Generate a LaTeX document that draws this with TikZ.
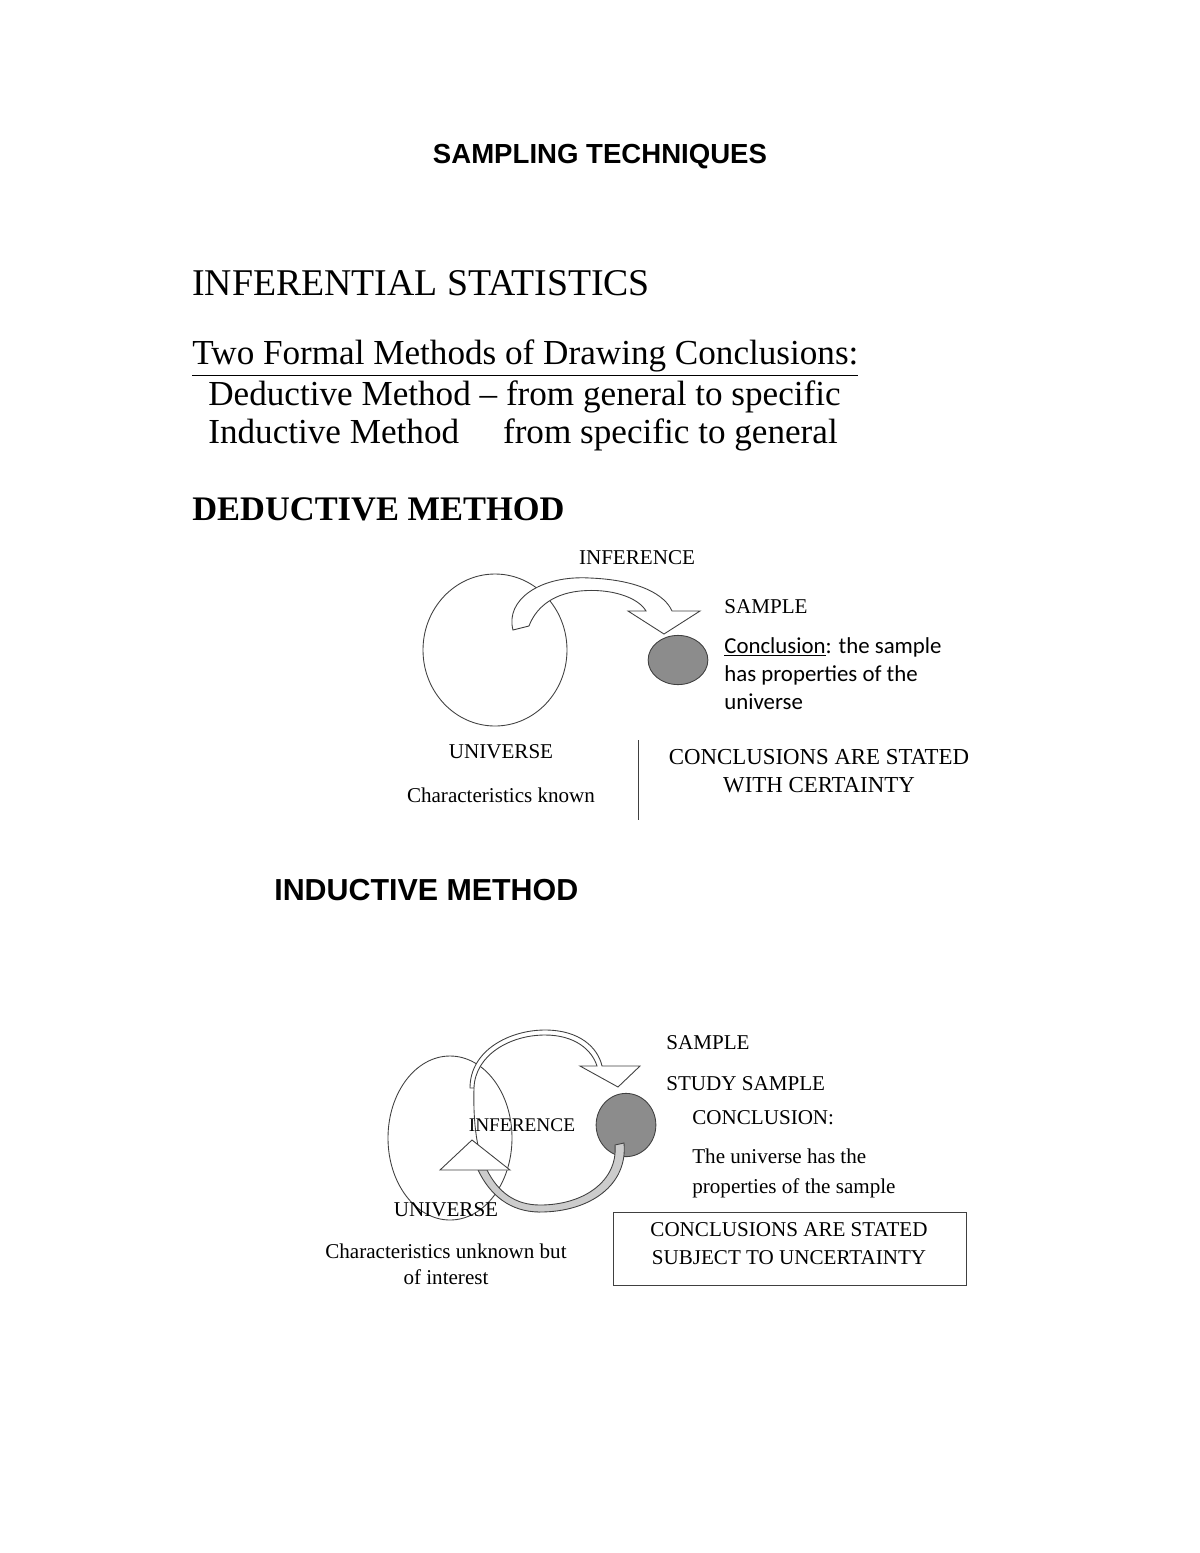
\documentclass[tikz,border=0pt]{standalone}
\usepackage{fontspec}
\usetikzlibrary{shapes.geometric}
\setmainfont{Liberation Serif}
\newfontfamily\hel{Liberation Sans}
\newfontfamily\carl{Carlito}
\begin{document}
\begin{tikzpicture}[x=0.02cm,y=-0.02cm,
  lbl/.style={inner sep=0pt,font=\fontsize{12}{14}\selectfont},
  left lbl/.style={lbl,anchor=west},
  thin line/.style={draw=black!75,line width=0.5pt}]
\useasboundingbox (0,0) rectangle (1200,1553);
\node[inner sep=0pt,font=\hel\bfseries\fontsize{15.7}{18}\selectfont] (title) at (600,157) {SAMPLING TECHNIQUES};
\node[anchor=west,inner sep=0pt,font=\fontsize{21.5}{24}\selectfont] (infs) at (192,283) {INFERENTIAL STATISTICS};
\node[anchor=west,inner sep=0pt,font=\fontsize{20}{22}\selectfont] (two) at (192,358) {\underline{Two Formal Methods of Drawing Conclusions:}};
\node[anchor=west,inner sep=0pt,font=\fontsize{20}{22}\selectfont] (ded) at (208,397) {Deductive Method -- from general to specific};
\node[anchor=west,inner sep=0pt,font=\fontsize{20}{22}\selectfont] (ind) at (208,435) {Inductive Method\quad\ from specific to general};
\node[anchor=west,inner sep=0pt,font=\bfseries\fontsize{19.6}{22}\selectfont] (dm) at (192,509) {DEDUCTIVE METHOD};
% deductive diagram
\draw[thin line] (495,650) ellipse [x radius=72,y radius=76];
\draw[thin line,fill=white] (513,630) .. controls (505,600) and (540,575) .. (590,578)
  .. controls (640,580) and (665,595) .. (672,611) -- (700,611) -- (664,634) -- (628,611) -- (646,611)
  .. controls (638,597) and (610,588) .. (580,591) .. controls (550,594) and (535,610) .. (529,626) -- cycle;
\node[thin line,fill=black!45,ellipse,minimum width=34pt,minimum height=28pt,inner sep=0pt] (dsamp) at (678,660) {};
\node[lbl] (dinf) at (637,558) {INFERENCE};
\node[left lbl] (dsl) at (724,607) {SAMPLE};
\node[left lbl,font=\carl\fontsize{13}{14}\selectfont,align=left,anchor=north west] (dcon) at (724,637) {\underline{Conclusion}: the sample\\[2pt] has properties of the\\[2pt] universe};
\node[lbl] (duni) at (501,752) {UNIVERSE};
\node[lbl] (dchar) at (501,795) {Characteristics known};
\draw[thin line] (638,740) coordinate (b1) -- (638,820) coordinate (b2);
\node[lbl,align=center,font=\fontsize{13}{16}\selectfont] (dbox) at (819,771) {CONCLUSIONS ARE STATED\\WITH CERTAINTY};
% inductive
\node[anchor=west,inner sep=0pt,font=\hel\bfseries\fontsize{17.3}{20}\selectfont] (im) at (274,890) {INDUCTIVE METHOD};
\draw[thin line] (450,1138) ellipse [x radius=62,y radius=82];
\draw[thin line,fill=white] (470,1088) .. controls (470,1050) and (510,1030) .. (545,1030)
  .. controls (580,1030) and (598,1048) .. (602,1066) -- (640,1066) -- (618,1087) -- (580,1066) -- (597,1066)
  .. controls (592,1050) and (575,1035) .. (545,1035) .. controls (510,1035) and (475,1055) .. (474,1088) -- cycle;
\draw[thin line] (474,1088) .. controls (472,1160) and (490,1205) .. (540,1212);
\node[thin line,fill=black!45,ellipse,minimum width=34pt,minimum height=36pt,inner sep=0pt] (isamp) at (626,1125) {};
\draw[thin line,fill=black!20] (624,1143) .. controls (628,1185) and (590,1212) .. (540,1212)
  .. controls (510,1212) and (490,1195) .. (478,1170) -- (487,1170)
  .. controls (498,1192) and (515,1205) .. (540,1205) .. controls (585,1205) and (618,1180) .. (615,1145) -- cycle;
\draw[thin line,fill=white] (440,1170) -- (472,1140) -- (510,1170) -- cycle;
\node[lbl] (iinf) at (522,1125) {\fontsize{11}{12}\selectfont INFERENCE};
\node[left lbl] (isl) at (666,1043) {SAMPLE};
\node[left lbl] (iss) at (666,1084) {STUDY SAMPLE};
\node[left lbl] (icon) at (692,1118) {CONCLUSION:};
\node[left lbl,align=left,anchor=north west,font=\fontsize{12}{15}\selectfont] (ithe) at (692,1149) {The universe has the\\[2pt]properties of the sample};
\node[lbl] (iuni) at (446,1210) {UNIVERSE};
\node[lbl,align=center,font=\fontsize{12}{15}\selectfont] (ichar) at (446,1264) {Characteristics unknown but\\of interest};
\draw[thin line] (613,1212) rectangle (966,1285);
\node[lbl,align=center,font=\fontsize{12}{16}\selectfont] (iboxt) at (789,1244) {CONCLUSIONS ARE STATED\\SUBJECT TO UNCERTAINTY};
\end{tikzpicture}
\end{document}
